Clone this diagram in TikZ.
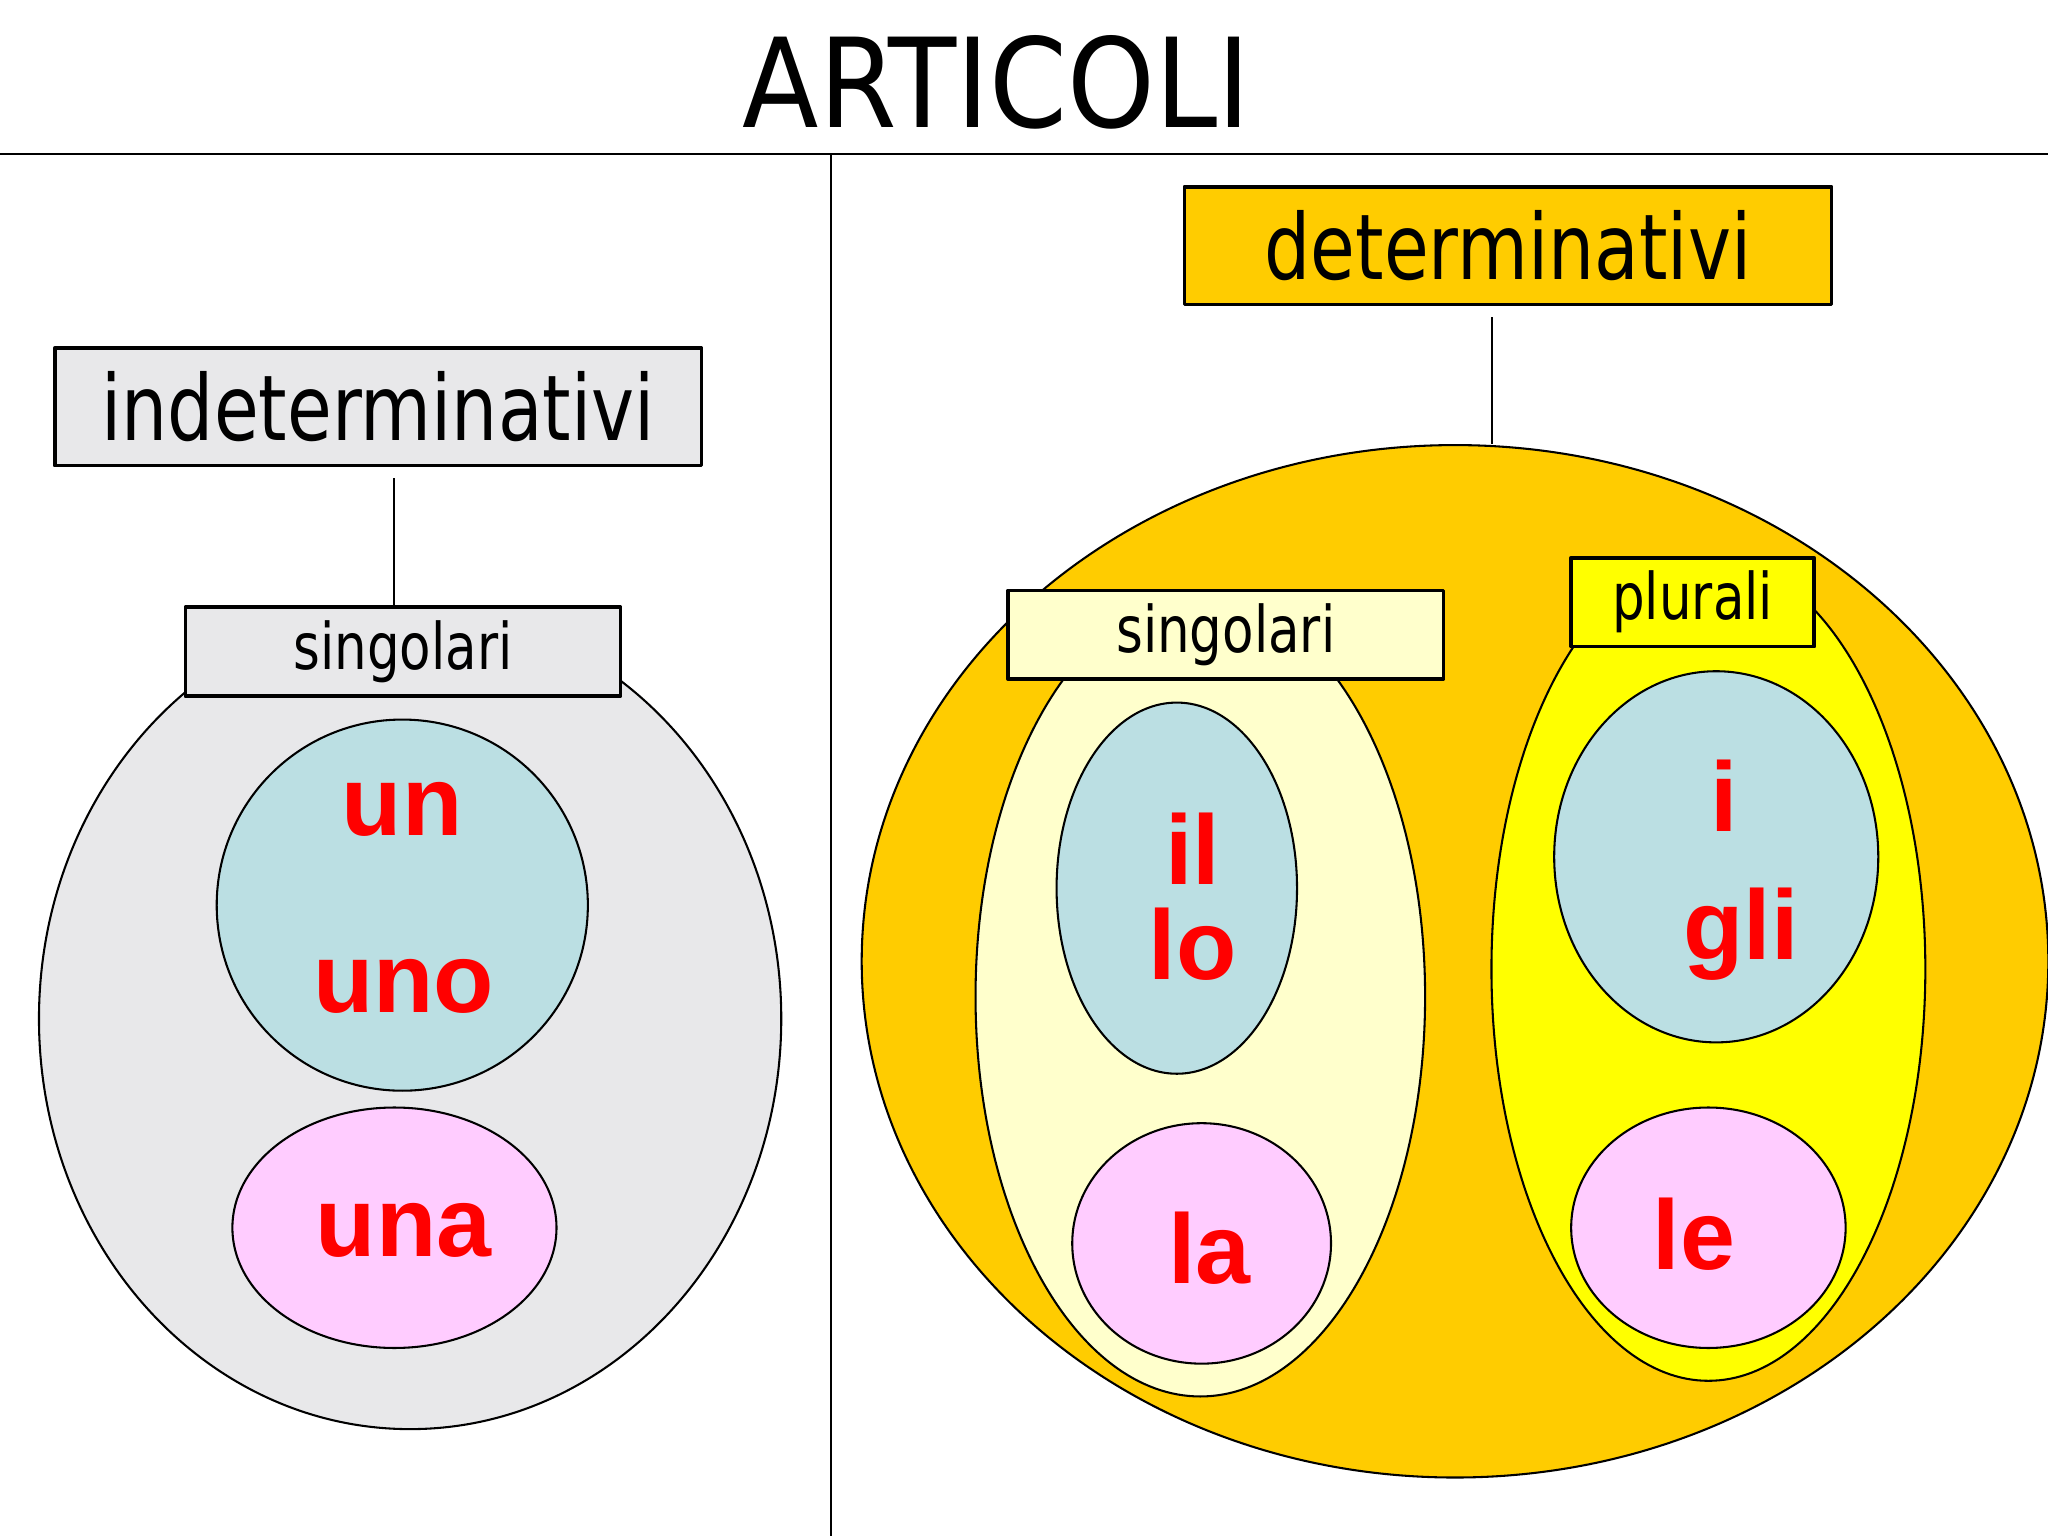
\documentclass[tikz,border=0pt]{standalone}
\usepackage{fontspec}
\usetikzlibrary{shapes.geometric}
\newfontfamily\comicfont[FakeStretch=0.8]{DejaVu Sans}
\newfontfamily\titlefont[FakeStretch=0.9]{DejaVu Sans}
\newfontfamily\arialfont{Liberation Sans}
\definecolor{greyfill}{HTML}{E8E8EA}
\definecolor{bluefill}{HTML}{BBDFE3}
\definecolor{pinkfill}{HTML}{FFCCFF}
\definecolor{goldfill}{HTML}{FFCC00}
\definecolor{creamfill}{HTML}{FFFFCC}
\definecolor{yellowfill}{HTML}{FFFF00}
\tikzset{
  tag/.style={draw,line width=0.8pt,inner sep=0pt,font=\comicfont},
  bigtag/.style={tag,minimum width=4.95cm,minimum height=0.9cm,font=\comicfont\fontsize{19.8}{22}\selectfont},
  smalltag/.style={tag,minimum height=0.68cm,font=\comicfont\fontsize{14}{16}\selectfont},
  oval/.style={ellipse,draw,line width=0.45pt,inner sep=0pt},
  word/.style={anchor=base,text=red,font=\arialfont\bfseries\fontsize{21.5}{24}\selectfont}
}
\begin{document}
\begin{tikzpicture}[x=0.01cm,y=-0.01cm,line join=round]
\useasboundingbox (0,0) rectangle (1568,1176);
\node[anchor=base,font=\titlefont\fontsize{27}{30}\selectfont] (title) at (763,98) {ARTICOLI};
\draw[line width=0.5pt] (0,118) -- (1568,118);
\draw[line width=0.45pt] (636,118) -- (636,1176);
% indeterminativi
\node[oval,fill=greyfill,minimum width=5.68cm,minimum height=6.28cm] (bigL) at (314,780) {};
\node[bigtag,fill=greyfill] (indet) at (289.5,311.5) {indeterminativi};
\node[smalltag,fill=greyfill,minimum width=3.33cm] (singL) at (308.5,499) {singolari};
\coordinate (tickL) at (302,366);
\draw[line width=0.45pt] (tickL) -- (tickL |- singL.north);
\node[oval,fill=bluefill,minimum width=2.84cm,minimum height=2.84cm] (unC) at (308,693) {};
\node[oval,fill=pinkfill,minimum width=2.48cm,minimum height=1.84cm] (unaC) at (302,940) {};
\node[word] (un) at (308,640) {un};
\node[word] (uno) at (309,775) {uno};
\node[word] (una) at (309,962) {una};
% determinativi
\node[oval,fill=goldfill,minimum width=9.08cm,minimum height=7.9cm] (bigR) at (1114,736) {};
\node[bigtag,fill=goldfill] (determ) at (1154.5,188) {determinativi};
\coordinate (tickR) at (1142,243);
\draw[line width=0.45pt] (tickR) -- (tickR |- bigR.north);
\node[oval,fill=creamfill,minimum width=3.44cm,minimum height=6.12cm] (singE) at (919,763) {};
\node[oval,fill=yellowfill,minimum width=3.32cm,minimum height=6.3cm] (plurE) at (1308,742) {};
\node[smalltag,fill=creamfill,minimum width=3.33cm] (singR) at (938.5,486) {singolari};
\node[smalltag,fill=yellowfill,minimum width=1.86cm] (plur) at (1296,461) {plurali};
\node[oval,fill=bluefill,minimum width=1.84cm,minimum height=2.84cm] (ilC) at (901,680) {};
\node[oval,fill=pinkfill,minimum width=1.98cm,minimum height=1.84cm] (laC) at (920,952) {};
\node[oval,fill=bluefill,minimum width=2.48cm,minimum height=2.84cm] (igliC) at (1314,656) {};
\node[oval,fill=pinkfill,minimum width=2.1cm,minimum height=1.84cm] (leC) at (1308,940) {};
\node[word] (il) at (913,677) {il};
\node[word] (lo) at (913,750) {lo};
\node[word] (la) at (926,983) {la};
\node[word] (i) at (1320,637) {i};
\node[word] (gli) at (1333,735) {gli};
\node[word] (le) at (1297,972) {le};
\end{tikzpicture}
\end{document}
